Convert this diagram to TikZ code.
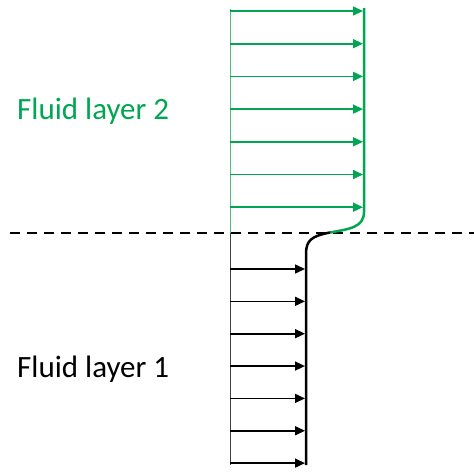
\documentclass[tikz,border=0pt]{standalone}
\usepackage{fontspec}
\setmainfont{Carlito}
\usepackage{xcolor}
\usepackage{tikz}
\usetikzlibrary{positioning,arrows.meta}
\definecolor{layergreen}{RGB}{0,166,81}

\begin{document}
\begin{tikzpicture}[
    x=1pt, y=-1pt,
    lbl/.style={inner sep=0pt, anchor=base west, font=\fontsize{31}{37}\selectfont},
    vel/.style={-{Triangle[length=10pt, width=9pt]}, line width=1.6pt},
    prof/.style={line width=2.5pt},
    axisline/.style={line width=0.9pt}
  ]
    \useasboundingbox (0,0) rectangle (474,474);
    % interface between the layers
    \coordinate (ifl) at (10,233);
    \coordinate (ifr) at (474,233);
    \draw[dash pattern=on 10pt off 7pt, line width=1.8pt] (ifl) -- (ifr);
    % layer 2 (upper)
    \coordinate (top) at (230,9);
    \coordinate (mid) at (230,233);
    \coordinate (bot) at (230,465);
    \draw[axisline, layergreen!70] (top) -- (mid);
    \draw[axisline, black!75] (mid) -- (bot);
    \foreach \i in {0,...,6} {
      \coordinate (ga\i) at (230,11+32.7*\i);
      \coordinate (gb\i) at (363,11+32.7*\i);
      \draw[vel, layergreen] (ga\i) -- (gb\i);
    }
    \foreach \i in {0,...,6} {
      \coordinate (ba\i) at (230,269+32.35*\i);
      \coordinate (bb\i) at (305,269+32.35*\i);
      \draw[vel, black] (ba\i) -- (bb\i);
    }
    % velocity profile
    \coordinate (gtop) at (364,8);
    \coordinate (cross) at (330,232.5);
    \coordinate (bend) at (306,465);
    \draw[prof, layergreen] (gtop) -- (364,212) .. controls (364,227) and (350,229) .. (cross);
    \draw[prof, black] (cross) .. controls (312,236) and (306,240) .. (306,254) -- (bend);
    % labels
    \node[lbl, text=layergreen] (layertwo) at (17,119) {Fluid layer 2};
    \node[lbl] (layerone) at (17,377) {Fluid layer 1};
\end{tikzpicture}
\end{document}
